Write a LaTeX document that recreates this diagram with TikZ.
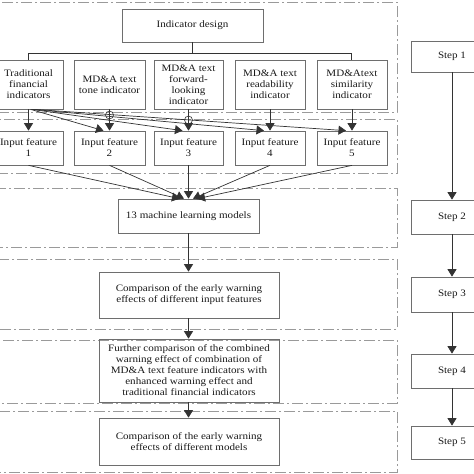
\documentclass[tikz,border=0pt]{standalone}
\usepackage{fontspec}
\setmainfont{Liberation Serif}[FakeStretch=1.13]
\usetikzlibrary{arrows.meta,calc}
\definecolor{boxc}{HTML}{6E6E6E}
\definecolor{dashc}{HTML}{9A9A9A}
\definecolor{arrc}{HTML}{333333}
\begin{document}
\begin{tikzpicture}[x=1pt,y=-1pt,
  box/.style={draw=boxc,line width=0.7pt,rectangle,align=center,inner sep=1pt,
    font=\fontsize{9.8}{11}\selectfont,text=black!90},
  region/.style={draw=dashc,line width=0.8pt,dash pattern=on 11pt off 3pt on 2pt off 3pt},
  arr/.style={draw=arrc,line width=0.7pt,-{Triangle[length=7.5pt,width=9pt]}},
  ln/.style={draw=arrc,line width=0.7pt},
  hop/.style={draw=arrc,line width=0.6pt}]
\useasboundingbox (0,0) rectangle (474,474);
\clip (0,0) rectangle (474,474);
% regions
\draw[region] (-6,2) rectangle (397,112);
\draw[region] (-6,119) rectangle (397,173);
\draw[region] (-6,188) rectangle (397,247);
\draw[region] (-6,259) rectangle (397,329);
\draw[region] (-6,340) rectangle (397,403);
\draw[region] (-6,411) rectangle (397,472);
% nodes
\node[box,minimum width=141pt,minimum height=33pt] (ind) at (192.5,25.5) {Indicator design};
\node[box,minimum width=69pt,minimum height=49pt] (b1) at (28.5,84.5) {Traditional\\financial\\indicators};
\node[box,minimum width=71pt,minimum height=49pt] (b2) at (109.5,84.5) {MD\&A text\\tone indicator};
\node[box,minimum width=69pt,minimum height=49pt] (b3) at (188.5,84.5) {MD\&A text\\forward-\\looking\\indicator};
\node[box,minimum width=70pt,minimum height=49pt] (b4) at (270,84.5) {MD\&A text\\readability\\indicator};
\node[box,minimum width=70pt,minimum height=49pt] (b5) at (352,84.5) {MD\&Atext\\similarity\\indicator};
\node[box,minimum width=69pt,minimum height=34pt] (i1) at (28.5,148) {Input feature\\1};
\node[box,minimum width=71pt,minimum height=34pt] (i2) at (109.5,148) {Input feature\\2};
\node[box,minimum width=69pt,minimum height=34pt] (i3) at (188.5,148) {Input feature\\3};
\node[box,minimum width=70pt,minimum height=34pt] (i4) at (270,148) {Input feature\\4};
\node[box,minimum width=70pt,minimum height=34pt] (i5) at (352,148) {Input feature\\5};
\node[box,minimum width=141pt,minimum height=34pt] (ml) at (188.5,216) {13 machine learning models};
\node[box,minimum width=180pt,minimum height=46pt] (c1) at (189,295) {Comparison of the early warning\\effects of different input features};
\node[box,minimum width=180pt,minimum height=63pt] (c2) at (189,370.5) {Further comparison of the combined\\warning effect of combination of\\MD\&A text feature indicators with\\enhanced warning effect and\\traditional financial indicators};
\node[box,minimum width=180pt,minimum height=47pt] (c3) at (189,441.5) {Comparison of the early warning\\effects of different models};
\node[box,minimum width=82pt,minimum height=31pt] (s1) at (452,56.5) {Step 1};
\node[box,minimum width=82pt,minimum height=34pt] (s2) at (452,217) {Step 2};
\node[box,minimum width=82pt,minimum height=35pt] (s3) at (452,294.5) {Step 3};
\node[box,minimum width=82pt,minimum height=34pt] (s4) at (452,371) {Step 4};
\node[box,minimum width=82pt,minimum height=33pt] (s5) at (452,442.5) {Step 5};
% tree bus
\coordinate (bus) at (192.5,53);
\draw[ln] (ind.south) -- (bus);
\draw[ln] (b1.north) -- (b1.north |- bus) -- ([xshift=-1pt]b5.north |- bus) -- ([xshift=-1pt]b5.north);
% vertical arrows row1 -> row2
\draw[arr] (b1.south) -- (i1.north);
\draw[arr] (b2.south) -- (i2.north);
\draw[arr] (b3.south) -- (i3.north);
\draw[arr] (b4.south) -- (i4.north);
\draw[arr] (b5.south) -- (i5.north);
% fan from traditional indicators
\coordinate (f2) at ([xshift=-6pt]i2.north);
\coordinate (f3) at ([xshift=-6pt]i3.north);
\coordinate (f4) at ([xshift=-6pt]i4.north);
\coordinate (f5) at ([xshift=-6pt]i5.north);
\draw[arr] ([xshift=2pt]b1.south) -- (f2);
\draw[arr] ([xshift=3pt]b1.south) -- (f3);
\draw[arr] ([xshift=4pt]b1.south) -- (f4);
\draw[arr] ([xshift=5pt]b1.south) -- (f5);
% hops
\draw[hop] (109.5,115) circle (4pt);
\draw[hop] (188.5,120) circle (4pt);
% inputs -> models
\draw[arr] (i1.south) -- ([xshift=-9pt]ml.north);
\draw[arr] (i2.south) -- ([xshift=-4.5pt]ml.north);
\draw[arr] (i3.south) -- (ml.north);
\draw[arr] (i4.south) -- ([xshift=4.5pt]ml.north);
\draw[arr] (i5.south) -- ([xshift=9pt]ml.north);
% main chain
\draw[arr] (ml.south) -- (c1.north -| ml.south);
\draw[arr] (c1.south -| ml.south) -- (c2.north -| ml.south);
\draw[arr] (c2.south -| ml.south) -- (c3.north -| ml.south);
% steps
\draw[arr] (s1) -- (s2);
\draw[arr] (s2) -- (s3);
\draw[arr] (s3) -- (s4);
\draw[arr] (s4) -- (s5);
\end{tikzpicture}
\end{document}
